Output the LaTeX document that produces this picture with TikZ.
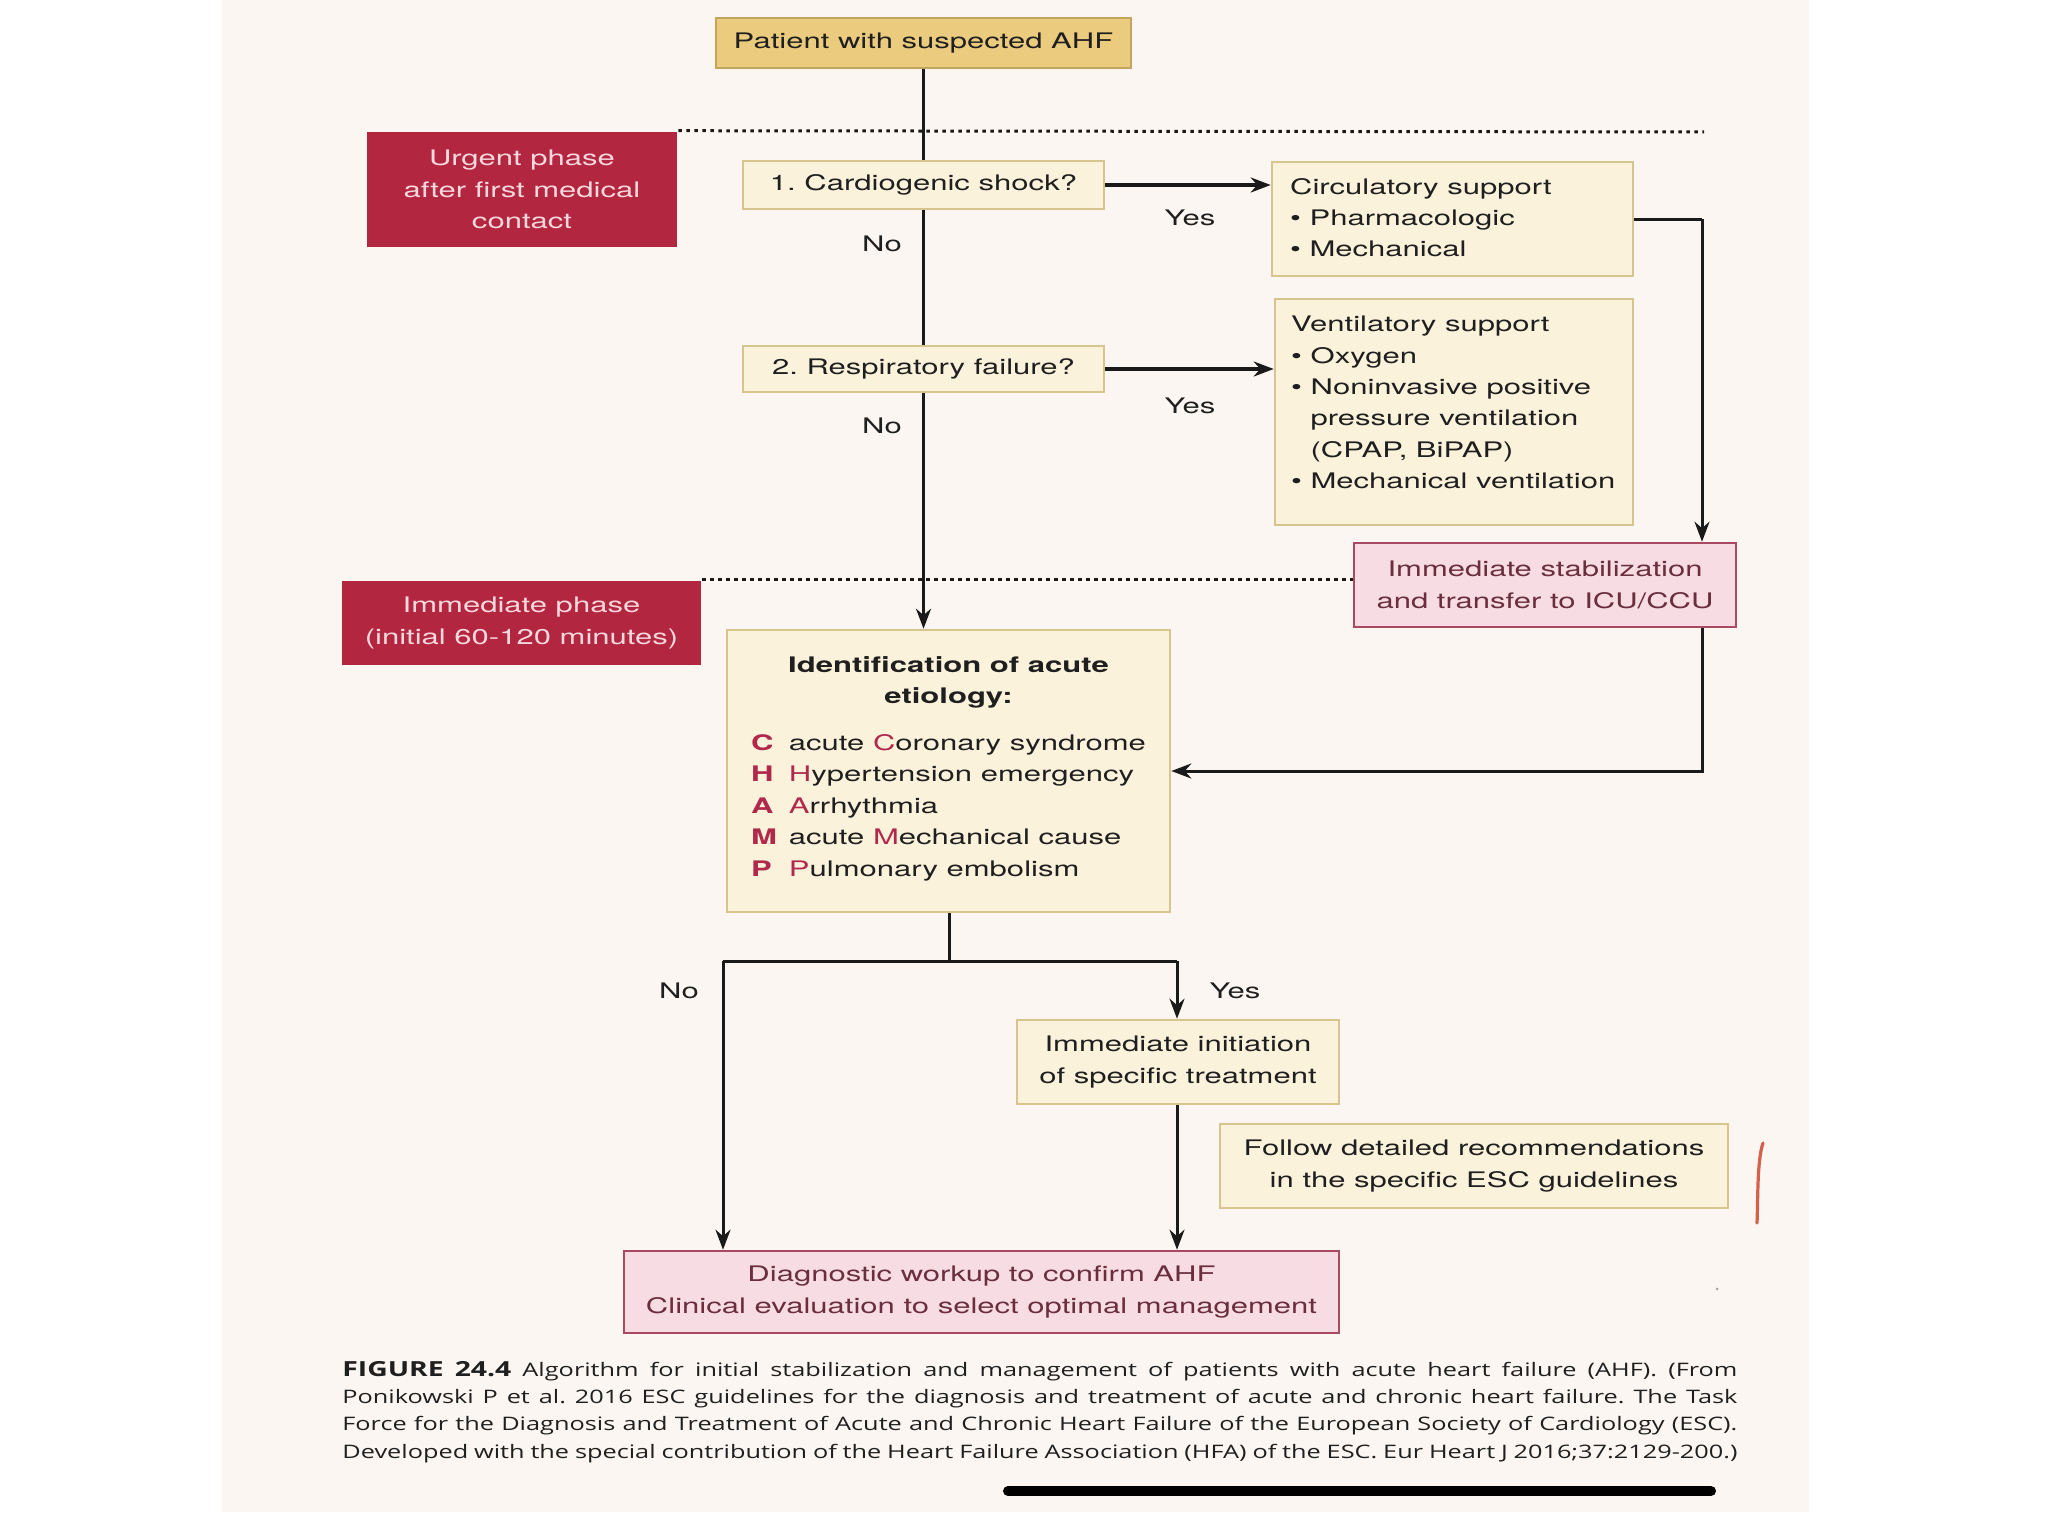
\documentclass[tikz,border=0pt]{standalone}
\usepackage{fontspec}
\setmainfont[FakeStretch=1.45]{TeX Gyre Heros}
\newfontfamily\capfont[FakeStretch=1.36]{Open Sans}
\usetikzlibrary{arrows.meta}
\definecolor{panel}{HTML}{FBF6F1}
\definecolor{goldfill}{HTML}{EBCB7E}
\definecolor{golddraw}{HTML}{C4A560}
\definecolor{creamfill}{HTML}{FBF2DC}
\definecolor{creamdraw}{HTML}{D8C58E}
\definecolor{pinkfill}{HTML}{F7DDE3}
\definecolor{pinkdraw}{HTML}{A84A62}
\definecolor{pinktext}{HTML}{6A2E3E}
\definecolor{redfill}{HTML}{B3263F}
\definecolor{redtext}{HTML}{F6D8DD}
\definecolor{champ}{HTML}{B0284A}
\definecolor{txt}{HTML}{1F1F1F}
\definecolor{linec}{HTML}{1A1A1A}
\definecolor{markred}{HTML}{D5614D}
\newcommand{\mainsize}{\fontsize{10.7}{15.7}\selectfont}
\newcommand{\ch}[1]{\textcolor{champ}{#1}}
\newcommand{\capline}[1]{\leavevmode\hbox to 697.5pt{\spaceskip=0.26em plus 0.6em minus 0.1em\xspaceskip=\spaceskip #1}}
\newcommand{\champlist}{%
  \begin{tabular}{@{}l@{\hspace{6pt}}l@{}}
  \ch{\bfseries C} & acute \ch{C}oronary syndrome\\
  \ch{\bfseries H} & \ch{H}ypertension emergency\\
  \ch{\bfseries A} & \ch{A}rrhythmia\\
  \ch{\bfseries M} & acute \ch{M}echanical cause\\
  \ch{\bfseries P} & \ch{P}ulmonary embolism
  \end{tabular}}
\begin{document}
\frenchspacing
\begin{tikzpicture}[x=0.5pt,y=-0.5pt,
  box/.style={line width=1.3pt, inner sep=0pt, align=center, font=\mainsize},
  goldbox/.style={box, fill=goldfill, draw=golddraw, text=txt},
  cream/.style={box, fill=creamfill, draw=creamdraw, text=txt},
  pinkbox/.style={box, fill=pinkfill, draw=pinkdraw, text=pinktext},
  redbox/.style={box, fill=redfill, draw=none, text=redtext},
  plain/.style={inner sep=0pt, font=\mainsize, text=txt, align=left},
  lbl/.style={inner sep=0pt, font=\mainsize, text=txt},
  conn/.style={draw=linec, line width=1.5pt},
  arr/.style={conn, -{Stealth[length=10pt,width=7.5pt]}},
  yarr/.style={draw=linec, line width=2.4pt, -{Stealth[length=10pt,width=7.5pt]}},
  phase/.style={draw=linec, line width=1.5pt, dash pattern=on 1.8pt off 2.2pt}
]
\useasboundingbox (0,0) rectangle (2048,1536);
\fill[white] (0,0) rectangle (2048,1536);
\fill[panel] (222,0) rectangle (1809,1512);

% nodes
\node[goldbox, minimum width=207.5pt, minimum height=25pt] (top) at (923.5,43) {Patient with suspected AHF};
\node[redbox, minimum width=155pt, minimum height=57.5pt] (urgent) at (522,189.5) {Urgent phase\\after first medical\\contact};
\node[cream, minimum width=180.5pt, minimum height=24pt] (q1) at (923.5,185) {1. Cardiogenic shock?};
\node[cream, minimum width=180.5pt, minimum height=57pt] (circ) at (1452.5,219) {};
\node[plain, anchor=north west] (circT) at ([shift={(19,17)}]circ.north west) {Circulatory support\\\textbullet\ Pharmacologic\\\textbullet\ Mechanical};
\node[cream, minimum width=179pt, minimum height=113pt] (vent) at (1454,412) {};
\node[plain, anchor=north west] (ventT) at ([shift={(17,18)}]vent.north west) {Ventilatory support\\\textbullet\ Oxygen\\\textbullet\ Noninvasive positive\\\hphantom{\textbullet\ }pressure ventilation\\\hphantom{\textbullet\ }(CPAP, BiPAP)\\\textbullet\ Mechanical ventilation};
\node[cream, minimum width=180.5pt, minimum height=23pt] (q2) at (923.5,369) {2. Respiratory failure?};
\node[pinkbox, minimum width=191pt, minimum height=42pt] (stab) at (1545,585) {Immediate stabilization\\and transfer to ICU/CCU};
\node[redbox, minimum width=179.5pt, minimum height=42pt] (immed) at (521.5,623) {Immediate phase\\(initial 60-120 minutes)};
\node[cream, minimum width=221.5pt, minimum height=141pt] (ident) at (948.5,771) {%
  \bfseries Identification of acute\\\bfseries etiology:\\[9pt]\mdseries\champlist};
\node[cream, minimum width=161pt, minimum height=42pt] (init) at (1178,1062) {Immediate initiation\\of specific treatment};
\node[cream, minimum width=254pt, minimum height=42pt] (follow) at (1474,1166) {Follow detailed recommendations\\in the specific ESC guidelines};
\node[pinkbox, minimum width=357.5pt, minimum height=41pt] (diag) at (981.5,1292) {Diagnostic workup to confirm AHF\\Clinical evaluation to select optimal management};

% phase dividers
\coordinate (d1end) at (1704,132);
\draw[phase] (urgent.north east) -- (d1end);
\draw[phase] (immed.north east) -- (immed.north east -| stab.west);

% main spine
\draw[conn] (top) -- (q1);
\draw[conn] (q1) -- (q2);
\draw[arr] (q2.south) -- (q2.south |- ident.north);

% yes branches
\draw[yarr] (q1.east) -- (q1.east -| circ.west);
\draw[yarr] (q2.east) -- (q2.east -| vent.west);

% right loop
\coordinate (rt) at (1702,219);
\draw[conn] (circ.east) -- (rt);
\draw[arr] (rt) -- (rt |- stab.north);
\draw[arr] (stab.south -| rt) |- (ident.east);

% lower branch
\coordinate (br) at (949,961);
\coordinate (lb) at (723,961);
\coordinate (rb) at (1177,961);
\draw[conn] (ident.south -| br) -- (br);
\draw[conn] (lb) -- (rb);
\draw[arr] (lb) -- (lb |- diag.north);
\draw[arr] (rb) -- (rb |- init.north);
\draw[arr] (init.south -| rb) -- (rb |- diag.north);

% labels
\node[lbl] (y1) at (1190,218) {Yes};
\node[lbl] (n1) at (882,244) {No};
\node[lbl] (y2) at (1190,406) {Yes};
\node[lbl] (n2) at (882,426) {No};
\node[lbl] (n3) at (679,991) {No};
\node[lbl] (y3) at (1235,991) {Yes};

% caption
\node[anchor=north west, inner sep=0pt, text width=697.5pt, align=left, text=txt,
      font=\capfont\fontsize{9.3}{13.6}\selectfont] (cap) at (342,1361) {%
\capline{\textbf{\fontsize{10.4}{13.6}\selectfont FIGURE 24.4} Algorithm for initial stabilization and management of patients with acute heart failure (AHF). (From}\\
\capline{Ponikowski P et al. 2016 ESC guidelines for the diagnosis and treatment of acute and chronic heart failure. The Task}\\
\capline{Force for the Diagnosis and Treatment of Acute and Chronic Heart Failure of the European Society of Cardiology (ESC).}\\
\capline{Developed with the special contribution of the Heart Failure Association (HFA) of the ESC. Eur Heart J 2016;37:2129-200.)}};

% decorations
\draw[line width=5pt, line cap=round, draw=black] (1008,1491) -- (1711,1491);
\draw[markred, line width=1.6pt, line cap=round] (1763,1143) .. controls (1757,1160) and (1758,1200) .. (1757,1223);
\fill[gray!70] (1717,1289) circle (1.5);
\end{tikzpicture}
\end{document}
